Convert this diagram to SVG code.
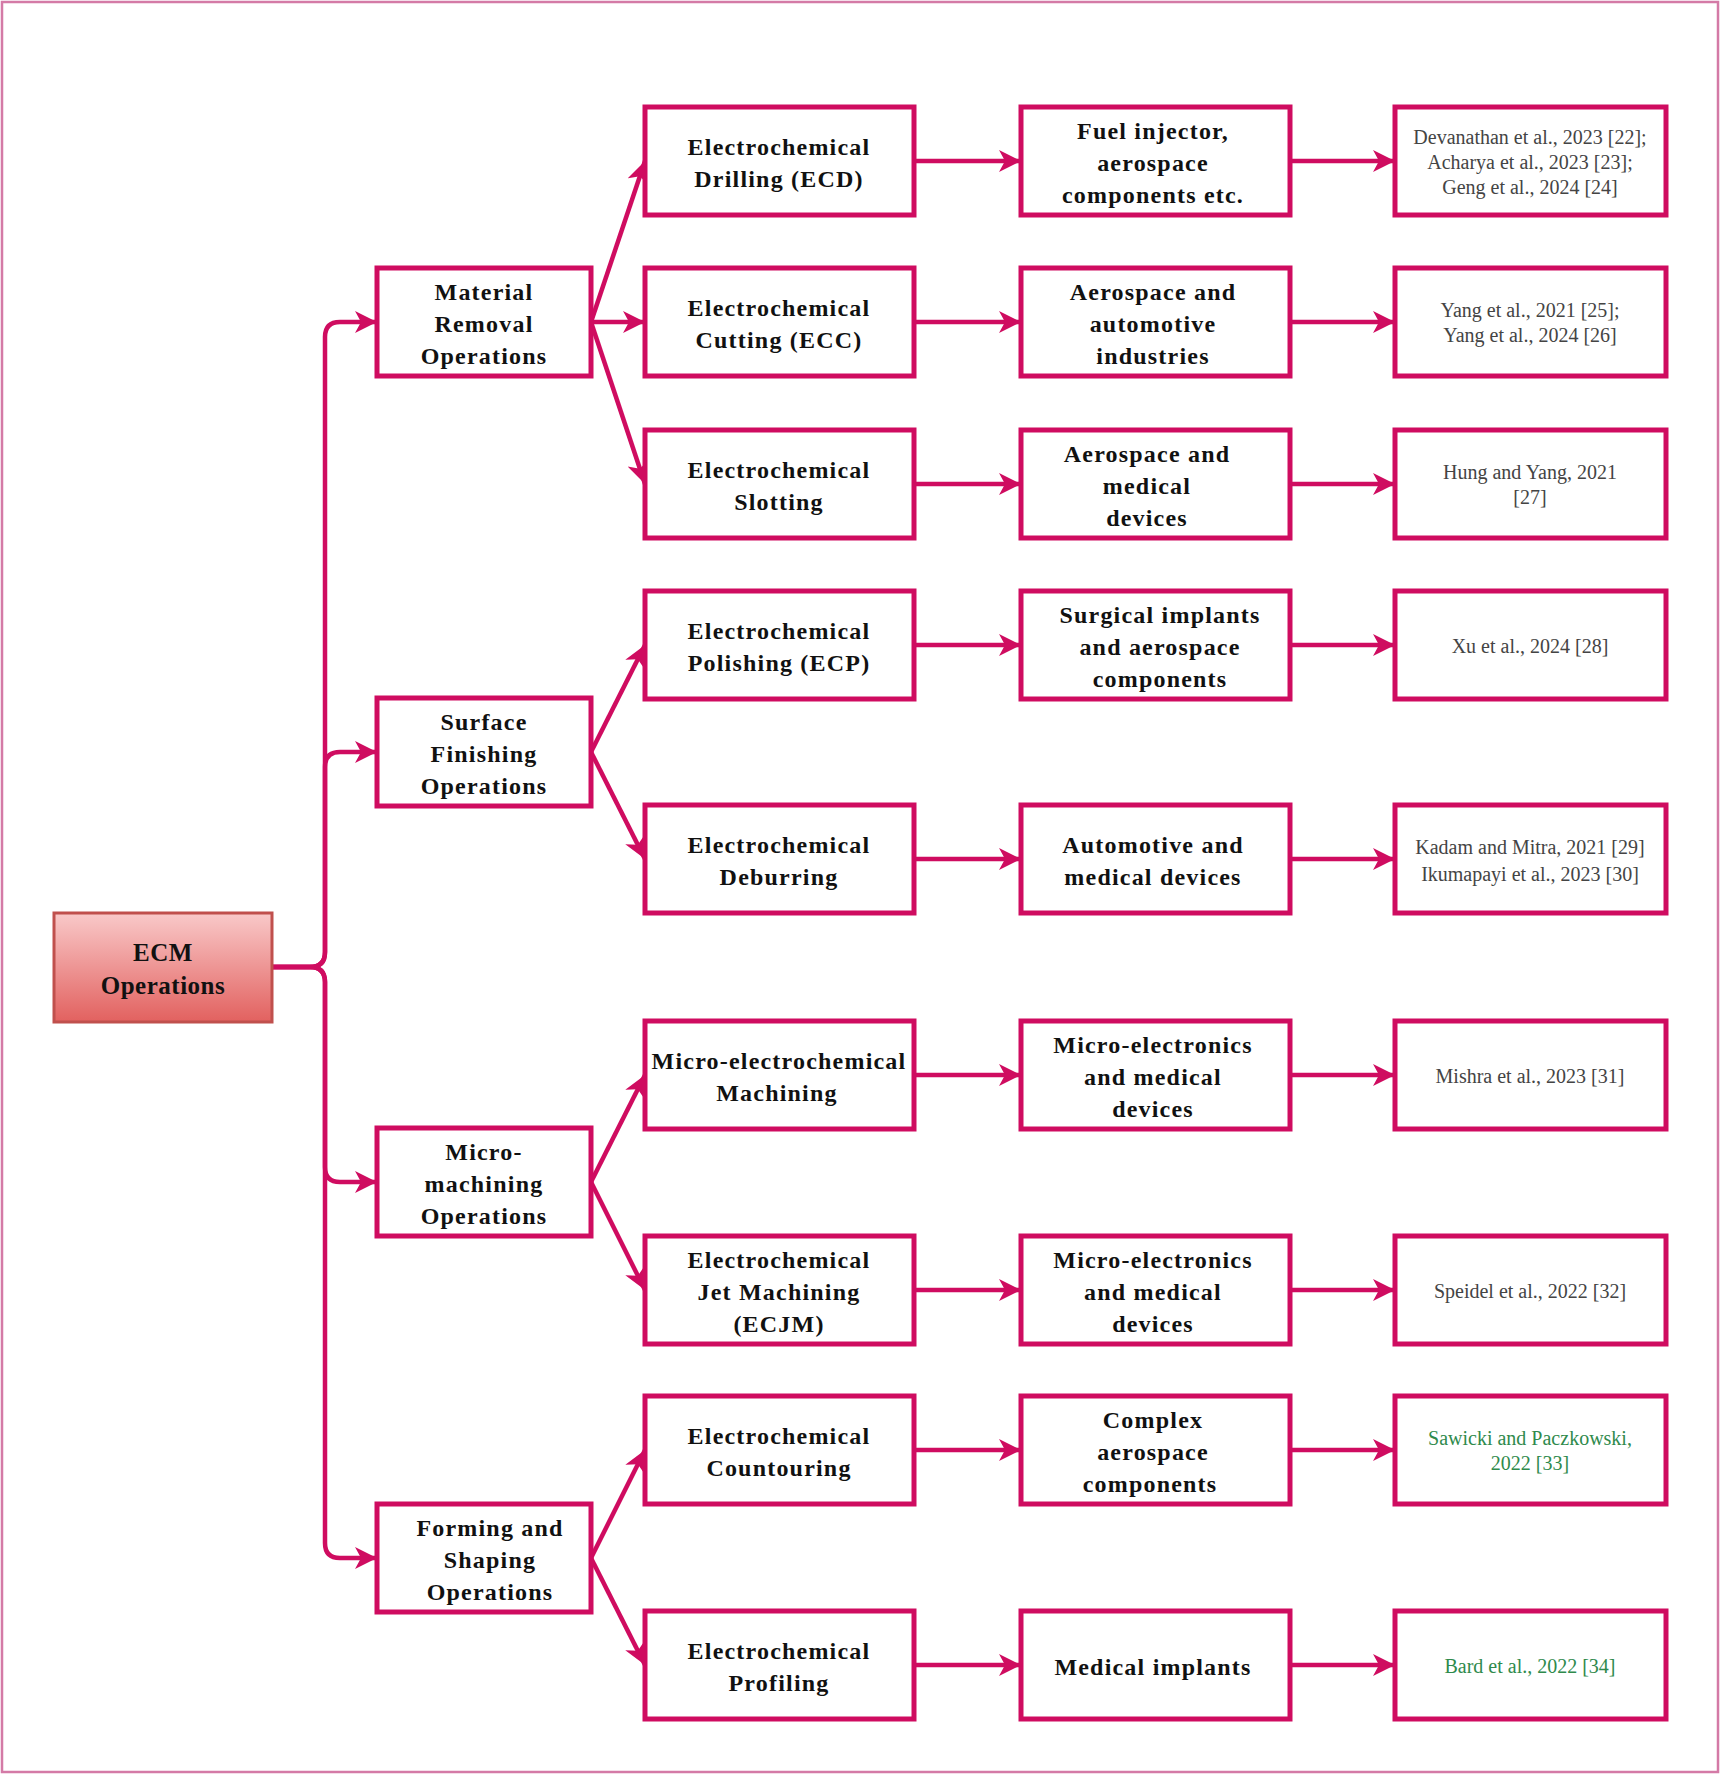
<svg xmlns="http://www.w3.org/2000/svg" width="1720" height="1774" viewBox="0 0 1720 1774">
<defs>
<linearGradient id="ecmGrad" x1="0" y1="0" x2="0" y2="1">
<stop offset="0" stop-color="#f9c9c9"/>
<stop offset="1" stop-color="#e2615f"/>
</linearGradient>
<marker id="arr" markerUnits="userSpaceOnUse" markerWidth="24" markerHeight="24" refX="22" refY="11" orient="auto">
<path d="M0,0 L22,11 L0,22 L6,11 z" fill="#cf0c60"/>
</marker>
</defs>
<style>
.box{fill:#fff;stroke:#cf0c60;stroke-width:5}
.con{fill:none;stroke:#cf0c60;stroke-width:4.5;marker-end:url(#arr)}
.b{font-family:"Liberation Serif","Times New Roman",serif;font-weight:bold;font-size:24px;letter-spacing:1.2px;fill:#111;text-anchor:middle}
.r{font-family:"Liberation Serif","Times New Roman",serif;font-size:20px;fill:#444;text-anchor:middle}
.g{fill:#2f8a4c}
</style>
<rect x="2" y="2" width="1716" height="1770" fill="#fff" stroke="#d47aa6" stroke-width="2.5"/>

<g id="connectors">
<path class="con" d="M272,967 H310 Q325,967 325,952 V337 Q325,322 340,322 H377"/>
<path class="con" d="M272,967 H310 Q325,967 325,952 V767 Q325,752 340,752 H377"/>
<path class="con" d="M272,967 H310 Q325,967 325,982 V1167 Q325,1182 340,1182 H377"/>
<path class="con" d="M272,967 H310 Q325,967 325,982 V1543 Q325,1558 340,1558 H377"/>
<path class="con" d="M591,322 L645,161"/>
<path class="con" d="M591,322 L645,322"/>
<path class="con" d="M591,322 L645,484"/>
<path class="con" d="M591,752 L645,645"/>
<path class="con" d="M591,752 L645,859"/>
<path class="con" d="M591,1182 L645,1075"/>
<path class="con" d="M591,1182 L645,1290"/>
<path class="con" d="M591,1558 L645,1450"/>
<path class="con" d="M591,1558 L645,1665"/>
<path class="con" d="M914,161 H1021"/>
<path class="con" d="M914,322 H1021"/>
<path class="con" d="M914,484 H1021"/>
<path class="con" d="M914,645 H1021"/>
<path class="con" d="M914,859 H1021"/>
<path class="con" d="M914,1075 H1021"/>
<path class="con" d="M914,1290 H1021"/>
<path class="con" d="M914,1450 H1021"/>
<path class="con" d="M914,1665 H1021"/>
<path class="con" d="M1290,161 H1395"/>
<path class="con" d="M1290,322 H1395"/>
<path class="con" d="M1290,484 H1395"/>
<path class="con" d="M1290,645 H1395"/>
<path class="con" d="M1290,859 H1395"/>
<path class="con" d="M1290,1075 H1395"/>
<path class="con" d="M1290,1290 H1395"/>
<path class="con" d="M1290,1450 H1395"/>
<path class="con" d="M1290,1665 H1395"/>
</g>

<g id="ecm">
<rect x="54" y="913" width="218" height="109" fill="url(#ecmGrad)" stroke="#c0504d" stroke-width="3"/>
<text class="b" x="163" y="961" style="letter-spacing:0.5px;font-size:25px">ECM</text>
<text class="b" x="163" y="994" style="letter-spacing:0.5px;font-size:25px">Operations</text>
</g>

<g id="mr"><rect class="box" x="377" y="268" width="214" height="108"/>
<text class="b" x="484" y="300">Material</text><text class="b" x="484" y="332">Removal</text><text class="b" x="484" y="364">Operations</text></g>
<g id="sf"><rect class="box" x="377" y="698" width="214" height="108"/>
<text class="b" x="484" y="730">Surface</text><text class="b" x="484" y="762">Finishing</text><text class="b" x="484" y="794">Operations</text></g>
<g id="mm"><rect class="box" x="377" y="1128" width="214" height="108"/>
<text class="b" x="484" y="1160">Micro-</text><text class="b" x="484" y="1192">machining</text><text class="b" x="484" y="1224">Operations</text></g>
<g id="fs"><rect class="box" x="377" y="1504" width="214" height="108"/>
<text class="b" x="490" y="1536">Forming and</text><text class="b" x="490" y="1568">Shaping</text><text class="b" x="490" y="1600">Operations</text></g>

<g id="ecd"><rect class="box" x="645" y="107" width="269" height="108"/>
<text class="b" x="779" y="155">Electrochemical</text><text class="b" x="779" y="187">Drilling (ECD)</text></g>
<g id="ecc"><rect class="box" x="645" y="268" width="269" height="108"/>
<text class="b" x="779" y="316">Electrochemical</text><text class="b" x="779" y="348">Cutting (ECC)</text></g>
<g id="slot"><rect class="box" x="645" y="430" width="269" height="108"/>
<text class="b" x="779" y="478">Electrochemical</text><text class="b" x="779" y="510">Slotting</text></g>
<g id="ecp"><rect class="box" x="645" y="591" width="269" height="108"/>
<text class="b" x="779" y="639">Electrochemical</text><text class="b" x="779" y="671">Polishing (ECP)</text></g>
<g id="deb"><rect class="box" x="645" y="805" width="269" height="108"/>
<text class="b" x="779" y="853">Electrochemical</text><text class="b" x="779" y="885">Deburring</text></g>
<g id="mecm"><rect class="box" x="645" y="1021" width="269" height="108"/>
<text class="b" x="779" y="1069">Micro-electrochemical</text><text class="b" x="777" y="1101">Machining</text></g>
<g id="ecjm"><rect class="box" x="645" y="1236" width="269" height="108"/>
<text class="b" x="779" y="1268">Electrochemical</text><text class="b" x="779" y="1300">Jet Machining</text><text class="b" x="779" y="1332">(ECJM)</text></g>
<g id="cont"><rect class="box" x="645" y="1396" width="269" height="108"/>
<text class="b" x="779" y="1444">Electrochemical</text><text class="b" x="779" y="1476">Countouring</text></g>
<g id="prof"><rect class="box" x="645" y="1611" width="269" height="108"/>
<text class="b" x="779" y="1659">Electrochemical</text><text class="b" x="779" y="1691">Profiling</text></g>

<g id="app1"><rect class="box" x="1021" y="107" width="269" height="108"/>
<text class="b" x="1153" y="139">Fuel injector,</text><text class="b" x="1153" y="171">aerospace</text><text class="b" x="1153" y="203">components etc.</text></g>
<g id="app2"><rect class="box" x="1021" y="268" width="269" height="108"/>
<text class="b" x="1153" y="300">Aerospace and</text><text class="b" x="1153" y="332">automotive</text><text class="b" x="1153" y="364">industries</text></g>
<g id="app3"><rect class="box" x="1021" y="430" width="269" height="108"/>
<text class="b" x="1147" y="462">Aerospace and</text><text class="b" x="1147" y="494">medical</text><text class="b" x="1147" y="526">devices</text></g>
<g id="app4"><rect class="box" x="1021" y="591" width="269" height="108"/>
<text class="b" x="1160" y="623">Surgical implants</text><text class="b" x="1160" y="655">and aerospace</text><text class="b" x="1160" y="687">components</text></g>
<g id="app5"><rect class="box" x="1021" y="805" width="269" height="108"/>
<text class="b" x="1153" y="853">Automotive and</text><text class="b" x="1153" y="885">medical devices</text></g>
<g id="app6"><rect class="box" x="1021" y="1021" width="269" height="108"/>
<text class="b" x="1153" y="1053">Micro-electronics</text><text class="b" x="1153" y="1085">and medical</text><text class="b" x="1153" y="1117">devices</text></g>
<g id="app7"><rect class="box" x="1021" y="1236" width="269" height="108"/>
<text class="b" x="1153" y="1268">Micro-electronics</text><text class="b" x="1153" y="1300">and medical</text><text class="b" x="1153" y="1332">devices</text></g>
<g id="app8"><rect class="box" x="1021" y="1396" width="269" height="108"/>
<text class="b" x="1153" y="1428">Complex</text><text class="b" x="1153" y="1460">aerospace</text><text class="b" x="1150" y="1492">components</text></g>
<g id="app9"><rect class="box" x="1021" y="1611" width="269" height="108"/>
<text class="b" x="1153" y="1675">Medical implants</text></g>

<g id="ref1"><rect class="box" x="1395" y="107" width="271" height="108"/>
<text class="r" x="1530" y="144">Devanathan et al., 2023 [22];</text><text class="r" x="1530" y="169">Acharya et al., 2023 [23];</text><text class="r" x="1530" y="194">Geng et al., 2024 [24]</text></g>
<g id="ref2"><rect class="box" x="1395" y="268" width="271" height="108"/>
<text class="r" x="1530" y="317">Yang et al., 2021 [25];</text><text class="r" x="1530" y="342">Yang et al., 2024 [26]</text></g>
<g id="ref3"><rect class="box" x="1395" y="430" width="271" height="108"/>
<text class="r" x="1530" y="479">Hung and Yang, 2021</text><text class="r" x="1530" y="504">[27]</text></g>
<g id="ref4"><rect class="box" x="1395" y="591" width="271" height="108"/>
<text class="r" x="1530" y="653">Xu et al., 2024 [28]</text></g>
<g id="ref5"><rect class="box" x="1395" y="805" width="271" height="108"/>
<text class="r" x="1530" y="854">Kadam and Mitra, 2021 [29]</text><text class="r" x="1530" y="881">Ikumapayi et al., 2023 [30]</text></g>
<g id="ref6"><rect class="box" x="1395" y="1021" width="271" height="108"/>
<text class="r" x="1530" y="1083">Mishra et al., 2023 [31]</text></g>
<g id="ref7"><rect class="box" x="1395" y="1236" width="271" height="108"/>
<text class="r" x="1530" y="1298">Speidel et al., 2022 [32]</text></g>
<g id="ref8"><rect class="box" x="1395" y="1396" width="271" height="108"/>
<text class="r g" x="1530" y="1445">Sawicki and Paczkowski,</text><text class="r g" x="1530" y="1470">2022 [33]</text></g>
<g id="ref9"><rect class="box" x="1395" y="1611" width="271" height="108"/>
<text class="r g" x="1530" y="1673">Bard et al., 2022 [34]</text></g>
</svg>
